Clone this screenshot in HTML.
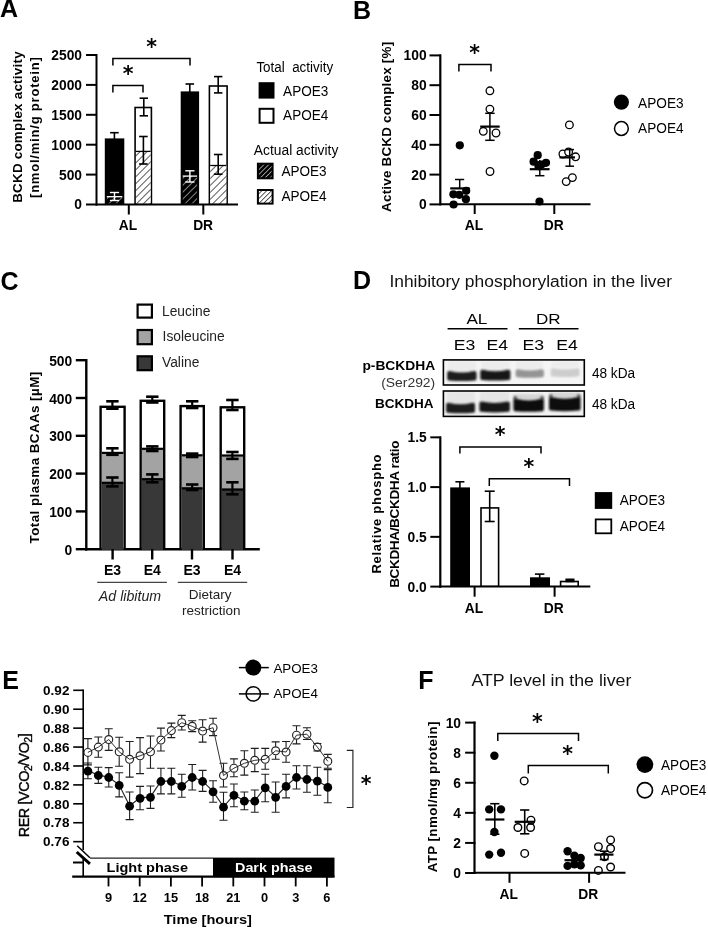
<!DOCTYPE html>
<html><head><meta charset="utf-8"><title>Figure</title>
<style>html,body{margin:0;padding:0;background:#fff;width:708px;height:928px;overflow:hidden}svg{display:block}text{font-family:"Liberation Sans", Arial, sans-serif}</style>
</head><body>
<svg width="708" height="928" viewBox="0 0 708 928">
<defs>
<pattern id="hatchB" patternUnits="userSpaceOnUse" width="4.9" height="4.9" patternTransform="rotate(45)">
<rect width="4.9" height="4.9" fill="#fff"/><line x1="0" y1="0" x2="0" y2="4.9" stroke="#222" stroke-width="1.5"/></pattern>
<pattern id="hatchW" patternUnits="userSpaceOnUse" width="4.9" height="4.9" patternTransform="rotate(45)">
<rect width="4.9" height="4.9" fill="#000"/><line x1="0" y1="0" x2="0" y2="4.9" stroke="#ddd" stroke-width="1.2"/></pattern>
<pattern id="hatchBL" patternUnits="userSpaceOnUse" width="3.4" height="3.4" patternTransform="rotate(45)">
<rect width="3.4" height="3.4" fill="#fff"/><line x1="0" y1="0" x2="0" y2="3.4" stroke="#111" stroke-width="1.35"/></pattern>
<pattern id="hatchWL" patternUnits="userSpaceOnUse" width="3.4" height="3.4" patternTransform="rotate(45)">
<rect width="3.4" height="3.4" fill="#000"/><line x1="0" y1="0" x2="0" y2="3.4" stroke="#fff" stroke-width="1.15"/></pattern>
<filter id="blur" x="-20%" y="-50%" width="140%" height="200%"><feGaussianBlur stdDeviation="0.9"/></filter>
</defs>
<rect width="708" height="928" fill="#fff"/>
<text x="0" y="17.2" font-size="25" font-weight="700">A</text>
<line x1="86" y1="204.5" x2="97" y2="204.5" stroke="#000" stroke-width="2" />
<text x="82" y="209.4" font-size="13.8" font-weight="700" text-anchor="end">0</text>
<line x1="86" y1="174.6" x2="97" y2="174.6" stroke="#000" stroke-width="2" />
<text x="82" y="179.5" font-size="13.8" font-weight="700" text-anchor="end">500</text>
<line x1="86" y1="144.7" x2="97" y2="144.7" stroke="#000" stroke-width="2" />
<text x="82" y="149.6" font-size="13.8" font-weight="700" text-anchor="end">1000</text>
<line x1="86" y1="114.8" x2="97" y2="114.8" stroke="#000" stroke-width="2" />
<text x="82" y="119.7" font-size="13.8" font-weight="700" text-anchor="end">1500</text>
<line x1="86" y1="84.9" x2="97" y2="84.9" stroke="#000" stroke-width="2" />
<text x="82" y="89.8" font-size="13.8" font-weight="700" text-anchor="end">2000</text>
<line x1="86" y1="55.0" x2="97" y2="55.0" stroke="#000" stroke-width="2" />
<text x="82" y="59.9" font-size="13.8" font-weight="700" text-anchor="end">2500</text>
<line x1="96.5" y1="54" x2="96.5" y2="205.5" stroke="#000" stroke-width="2" />
<rect x="105.8" y="139.4" width="17.5" height="64.6" fill="#000" stroke="#000" stroke-width="2" />
<rect x="135.1" y="107.5" width="16.3" height="96.7" fill="#fff" stroke="#000" stroke-width="1.6" />
<rect x="181.7" y="92.4" width="16.4" height="111.6" fill="#000" stroke="#000" stroke-width="2" />
<rect x="209.4" y="86.0" width="17.7" height="118.2" fill="#fff" stroke="#000" stroke-width="1.6" />
<rect x="106.8" y="196.7" width="15.5" height="6.8" fill="url(#hatchW)" />
<rect x="135.9" y="151.4" width="14.7" height="52.3" fill="url(#hatchB)" />
<rect x="182.7" y="176.1" width="14.4" height="27.4" fill="url(#hatchW)" />
<rect x="210.2" y="165.5" width="16.1" height="38.2" fill="url(#hatchB)" />
<line x1="106.8" y1="196.7" x2="122.3" y2="196.7" stroke="#fff" stroke-width="1.3" />
<line x1="135.9" y1="151.4" x2="150.6" y2="151.4" stroke="#000" stroke-width="1.3" />
<line x1="182.7" y1="176.1" x2="197.1" y2="176.1" stroke="#fff" stroke-width="1.3" />
<line x1="210.2" y1="165.5" x2="226.3" y2="165.5" stroke="#000" stroke-width="1.3" />
<line x1="114.4" y1="132.7" x2="114.4" y2="140" stroke="#000" stroke-width="1.6" />
<line x1="110.10000000000001" y1="132.7" x2="118.7" y2="132.7" stroke="#000" stroke-width="1.6" />
<line x1="110.10000000000001" y1="140" x2="118.7" y2="140" stroke="#000" stroke-width="1.6" />
<line x1="143.8" y1="98.2" x2="143.8" y2="115.8" stroke="#000" stroke-width="1.6" />
<line x1="139.60000000000002" y1="98.2" x2="148.0" y2="98.2" stroke="#000" stroke-width="1.6" />
<line x1="139.60000000000002" y1="115.8" x2="148.0" y2="115.8" stroke="#000" stroke-width="1.6" />
<line x1="189.8" y1="84" x2="189.8" y2="93" stroke="#000" stroke-width="1.6" />
<line x1="185.5" y1="84" x2="194.10000000000002" y2="84" stroke="#000" stroke-width="1.6" />
<line x1="185.5" y1="93" x2="194.10000000000002" y2="93" stroke="#000" stroke-width="1.6" />
<line x1="218.2" y1="76.6" x2="218.2" y2="92.9" stroke="#000" stroke-width="1.6" />
<line x1="214.0" y1="76.6" x2="222.39999999999998" y2="76.6" stroke="#000" stroke-width="1.6" />
<line x1="214.0" y1="92.9" x2="222.39999999999998" y2="92.9" stroke="#000" stroke-width="1.6" />
<line x1="114.5" y1="192.5" x2="114.5" y2="200.5" stroke="#fff" stroke-width="1.4" />
<line x1="109.9" y1="192.5" x2="119.1" y2="192.5" stroke="#fff" stroke-width="1.4" />
<line x1="109.9" y1="200.5" x2="119.1" y2="200.5" stroke="#fff" stroke-width="1.4" />
<line x1="143.4" y1="136.5" x2="143.4" y2="164" stroke="#000" stroke-width="1.6" />
<line x1="139.1" y1="136.5" x2="147.70000000000002" y2="136.5" stroke="#000" stroke-width="1.6" />
<line x1="139.1" y1="164" x2="147.70000000000002" y2="164" stroke="#000" stroke-width="1.6" />
<line x1="189.9" y1="170.8" x2="189.9" y2="182" stroke="#fff" stroke-width="1.4" />
<line x1="185.3" y1="170.8" x2="194.5" y2="170.8" stroke="#fff" stroke-width="1.4" />
<line x1="185.3" y1="182" x2="194.5" y2="182" stroke="#fff" stroke-width="1.4" />
<line x1="218.2" y1="154.5" x2="218.2" y2="174.2" stroke="#000" stroke-width="1.6" />
<line x1="213.89999999999998" y1="154.5" x2="222.5" y2="154.5" stroke="#000" stroke-width="1.6" />
<line x1="213.89999999999998" y1="174.2" x2="222.5" y2="174.2" stroke="#000" stroke-width="1.6" />
<line x1="95.5" y1="204.5" x2="238" y2="204.5" stroke="#000" stroke-width="2" />
<line x1="128.8" y1="204.5" x2="128.8" y2="214.5" stroke="#000" stroke-width="2" />
<line x1="203.3" y1="204.5" x2="203.3" y2="214.5" stroke="#000" stroke-width="2" />
<text x="127.9" y="229.8" font-size="13.8" font-weight="700" text-anchor="middle">AL</text>
<text x="203.1" y="229.8" font-size="13.8" font-weight="700" text-anchor="middle">DR</text>
<path d="M112.9 65.5V58.6H190V65.5" stroke="#000" stroke-width="1.5" fill="none" />
<text x="151.7" y="53.55" font-size="20.5" font-weight="700" text-anchor="middle" style="font-family:'DejaVu Sans',sans-serif">*</text>
<path d="M112.9 92.5V85.5H143V92.5" stroke="#000" stroke-width="1.5" fill="none" />
<text x="128" y="80.55" font-size="20.5" font-weight="700" text-anchor="middle" style="font-family:'DejaVu Sans',sans-serif">*</text>
<text x="22.2" y="127.1" font-size="13.4" font-weight="700" text-anchor="middle" textLength="151.4" lengthAdjust="spacing" transform="rotate(-90 22.2 127.1)">BCKD complex activity</text>
<text x="39.5" y="127.6" font-size="13" font-weight="700" text-anchor="middle" textLength="140.8" lengthAdjust="spacing" transform="rotate(-90 39.5 127.6)">[nmol/min/g protein]</text>
<text x="256.4" y="72" font-size="14" textLength="76.7" lengthAdjust="spacingAndGlyphs">Total&#160; activity</text>
<rect x="259.6" y="83.2" width="13.9" height="14.4" fill="#000" stroke="#000" stroke-width="2" />
<text x="283.1" y="95.7" font-size="14" textLength="45.2" lengthAdjust="spacingAndGlyphs">APOE3</text>
<rect x="259.6" y="108.8" width="13.9" height="14.0" fill="#fff" stroke="#000" stroke-width="2" />
<text x="283.1" y="119.8" font-size="14" textLength="45.2" lengthAdjust="spacingAndGlyphs">APOE4</text>
<text x="253.8" y="155.2" font-size="14" textLength="84.5" lengthAdjust="spacingAndGlyphs">Actual activity</text>
<rect x="257.9" y="163.7" width="14.7" height="14.6" fill="url(#hatchWL)" stroke="#000" stroke-width="2" />
<text x="281.4" y="175.5" font-size="14" textLength="45.2" lengthAdjust="spacingAndGlyphs">APOE3</text>
<rect x="257.9" y="190.0" width="14.7" height="13.6" fill="url(#hatchBL)" stroke="#000" stroke-width="2" />
<text x="281.4" y="200.9" font-size="14" textLength="45.2" lengthAdjust="spacingAndGlyphs">APOE4</text>
<text x="353" y="19.1" font-size="25" font-weight="700">B</text>
<line x1="429.5" y1="204.4" x2="441" y2="204.4" stroke="#000" stroke-width="2" />
<text x="426.6" y="209.3" font-size="13.8" font-weight="700" text-anchor="end">0</text>
<line x1="429.5" y1="174.6" x2="441" y2="174.6" stroke="#000" stroke-width="2" />
<text x="426.6" y="179.5" font-size="13.8" font-weight="700" text-anchor="end">20</text>
<line x1="429.5" y1="144.8" x2="441" y2="144.8" stroke="#000" stroke-width="2" />
<text x="426.6" y="149.7" font-size="13.8" font-weight="700" text-anchor="end">40</text>
<line x1="429.5" y1="115.0" x2="441" y2="115.0" stroke="#000" stroke-width="2" />
<text x="426.6" y="119.9" font-size="13.8" font-weight="700" text-anchor="end">60</text>
<line x1="429.5" y1="85.2" x2="441" y2="85.2" stroke="#000" stroke-width="2" />
<text x="426.6" y="90.1" font-size="13.8" font-weight="700" text-anchor="end">80</text>
<line x1="429.5" y1="55.4" x2="441" y2="55.4" stroke="#000" stroke-width="2" />
<text x="426.6" y="60.3" font-size="13.8" font-weight="700" text-anchor="end">100</text>
<line x1="440.3" y1="54.4" x2="440.3" y2="205.3" stroke="#000" stroke-width="2.2" />
<line x1="439.3" y1="204.3" x2="590.5" y2="204.3" stroke="#000" stroke-width="2" />
<line x1="474.7" y1="204.3" x2="474.7" y2="214" stroke="#000" stroke-width="2" />
<line x1="554.3" y1="204.3" x2="554.3" y2="214" stroke="#000" stroke-width="2" />
<text x="474" y="230.3" font-size="13.8" font-weight="700" text-anchor="middle">AL</text>
<text x="553.8" y="230.3" font-size="13.8" font-weight="700" text-anchor="middle">DR</text>
<text x="391" y="126.9" font-size="13.4" font-weight="700" text-anchor="middle" textLength="170" lengthAdjust="spacing" transform="rotate(-90 391 126.9)">Active BCKD complex [%]</text>
<path d="M458.9 71.4V64.6H491V71.4" stroke="#000" stroke-width="1.5" fill="none" />
<text x="474.5" y="59.55" font-size="20.5" font-weight="700" text-anchor="middle" style="font-family:'DejaVu Sans',sans-serif">*</text>
<circle cx="459.8" cy="145.3" r="4.1" fill="#000"/>
<circle cx="453.4" cy="194.3" r="4.1" fill="#000"/>
<circle cx="459.3" cy="194.8" r="4.1" fill="#000"/>
<circle cx="466.2" cy="190.8" r="4.1" fill="#000"/>
<circle cx="465.9" cy="199.2" r="4.1" fill="#000"/>
<circle cx="453.6" cy="204.5" r="4.1" fill="#000"/>
<line x1="450.2" y1="188.4" x2="469.7" y2="188.4" stroke="#000" stroke-width="2.2" />
<line x1="459.7" y1="179.5" x2="459.7" y2="188.4" stroke="#000" stroke-width="1.5" />
<line x1="455" y1="179.5" x2="464.2" y2="179.5" stroke="#000" stroke-width="1.5" />
<circle cx="489.9" cy="90.8" r="3.8" fill="#fff" stroke="#000" stroke-width="1.3"/>
<circle cx="489.9" cy="109.1" r="3.8" fill="#fff" stroke="#000" stroke-width="1.3"/>
<circle cx="483.3" cy="131.3" r="3.8" fill="#fff" stroke="#000" stroke-width="1.3"/>
<circle cx="496" cy="133" r="3.8" fill="#fff" stroke="#000" stroke-width="1.3"/>
<circle cx="490" cy="171.5" r="3.8" fill="#fff" stroke="#000" stroke-width="1.3"/>
<line x1="480.2" y1="126.6" x2="499.7" y2="126.6" stroke="#000" stroke-width="2.2" />
<line x1="489.9" y1="113.3" x2="489.9" y2="140.3" stroke="#000" stroke-width="1.5" />
<line x1="485.2" y1="113.3" x2="494.59999999999997" y2="113.3" stroke="#000" stroke-width="1.5" />
<line x1="485.2" y1="140.3" x2="494.59999999999997" y2="140.3" stroke="#000" stroke-width="1.5" />
<circle cx="537.7" cy="155.2" r="4.1" fill="#000"/>
<circle cx="533.6" cy="161.7" r="4.1" fill="#000"/>
<circle cx="546" cy="162.8" r="4.1" fill="#000"/>
<circle cx="539" cy="165" r="4.1" fill="#000"/>
<circle cx="538.5" cy="166.2" r="4.1" fill="#000"/>
<circle cx="541.5" cy="164.5" r="4.1" fill="#000"/>
<circle cx="539.5" cy="201.5" r="4.1" fill="#000"/>
<line x1="529.8" y1="169.2" x2="549.6" y2="169.2" stroke="#000" stroke-width="2.2" />
<line x1="539.8" y1="160" x2="539.8" y2="175.7" stroke="#000" stroke-width="1.5" />
<line x1="535.2" y1="175.7" x2="544.4" y2="175.7" stroke="#000" stroke-width="1.5" />
<circle cx="569.4" cy="124.9" r="3.8" fill="#fff" stroke="#000" stroke-width="1.3"/>
<circle cx="562.9" cy="154" r="3.8" fill="#fff" stroke="#000" stroke-width="1.3"/>
<circle cx="568.6" cy="152" r="3.8" fill="#fff" stroke="#000" stroke-width="1.3"/>
<circle cx="575.6" cy="156.8" r="3.8" fill="#fff" stroke="#000" stroke-width="1.3"/>
<circle cx="566.2" cy="181.6" r="3.8" fill="#fff" stroke="#000" stroke-width="1.3"/>
<circle cx="572.4" cy="177.6" r="3.8" fill="#fff" stroke="#000" stroke-width="1.3"/>
<line x1="559.5" y1="157.4" x2="575" y2="157.4" stroke="#000" stroke-width="2.2" />
<line x1="569.7" y1="149.6" x2="569.7" y2="166.2" stroke="#000" stroke-width="1.5" />
<line x1="565.4000000000001" y1="149.6" x2="574.0" y2="149.6" stroke="#000" stroke-width="1.5" />
<line x1="565.4000000000001" y1="166.2" x2="574.0" y2="166.2" stroke="#000" stroke-width="1.5" />
<circle cx="621.4" cy="102.1" r="7.6" fill="#000"/>
<circle cx="621.4" cy="128.5" r="6.9" fill="#fff" stroke="#000" stroke-width="1.5"/>
<text x="638.1" y="107.5" font-size="14" textLength="45.5" lengthAdjust="spacingAndGlyphs">APOE3</text>
<text x="638.1" y="132.6" font-size="14" textLength="45.5" lengthAdjust="spacingAndGlyphs">APOE4</text>
<text x="0.5" y="290.2" font-size="25" font-weight="700">C</text>
<line x1="75.8" y1="549.2" x2="87" y2="549.2" stroke="#000" stroke-width="2.4" />
<text x="72.2" y="554.8" font-size="13.8" font-weight="700" text-anchor="end">0</text>
<line x1="75.8" y1="511.4" x2="87" y2="511.4" stroke="#000" stroke-width="2.4" />
<text x="72.2" y="517.0" font-size="13.8" font-weight="700" text-anchor="end">100</text>
<line x1="75.8" y1="473.6" x2="87" y2="473.6" stroke="#000" stroke-width="2.4" />
<text x="72.2" y="479.2" font-size="13.8" font-weight="700" text-anchor="end">200</text>
<line x1="75.8" y1="435.8" x2="87" y2="435.8" stroke="#000" stroke-width="2.4" />
<text x="72.2" y="441.4" font-size="13.8" font-weight="700" text-anchor="end">300</text>
<line x1="75.8" y1="398.0" x2="87" y2="398.0" stroke="#000" stroke-width="2.4" />
<text x="72.2" y="403.6" font-size="13.8" font-weight="700" text-anchor="end">400</text>
<line x1="75.8" y1="360.2" x2="87" y2="360.2" stroke="#000" stroke-width="2.4" />
<text x="72.2" y="365.8" font-size="13.8" font-weight="700" text-anchor="end">500</text>
<line x1="86.3" y1="359" x2="86.3" y2="550.5" stroke="#000" stroke-width="2.4" />
<line x1="85" y1="549.3" x2="259.8" y2="549.3" stroke="#000" stroke-width="2.6" />
<text x="39.5" y="457.6" font-size="13.4" font-weight="700" text-anchor="middle" textLength="171.6" lengthAdjust="spacing" transform="rotate(-90 39.5 457.6)">Total plasma BCAAs [µM]</text>
<rect x="100.6" y="406.8" width="24.0" height="142.0" fill="#fff" stroke="#000" stroke-width="2.4" />
<rect x="101.80000000000001" y="452.9" width="21.59999999999999" height="96.39999999999998" fill="#a3a3a3" />
<rect x="101.80000000000001" y="482.8" width="21.59999999999999" height="66.49999999999994" fill="#383838" />
<line x1="101.80000000000001" y1="452.9" x2="123.39999999999999" y2="452.9" stroke="#000" stroke-width="2.2" />
<line x1="101.80000000000001" y1="482.8" x2="123.39999999999999" y2="482.8" stroke="#000" stroke-width="2.2" />
<rect x="140.7" y="400.8" width="23.5" height="148.0" fill="#fff" stroke="#000" stroke-width="2.4" />
<rect x="141.9" y="448.8" width="21.100000000000005" height="100.49999999999994" fill="#a3a3a3" />
<rect x="141.9" y="479.2" width="21.100000000000005" height="70.09999999999997" fill="#383838" />
<line x1="141.9" y1="448.8" x2="163.0" y2="448.8" stroke="#000" stroke-width="2.2" />
<line x1="141.9" y1="479.2" x2="163.0" y2="479.2" stroke="#000" stroke-width="2.2" />
<rect x="180.6" y="406.1" width="23.2" height="142.7" fill="#fff" stroke="#000" stroke-width="2.4" />
<rect x="181.8" y="455.3" width="20.799999999999994" height="93.99999999999994" fill="#a3a3a3" />
<rect x="181.8" y="488.3" width="20.799999999999994" height="60.99999999999994" fill="#383838" />
<line x1="181.8" y1="455.3" x2="202.6" y2="455.3" stroke="#000" stroke-width="2.2" />
<line x1="181.8" y1="488.3" x2="202.6" y2="488.3" stroke="#000" stroke-width="2.2" />
<rect x="220.7" y="407.3" width="23.5" height="141.5" fill="#fff" stroke="#000" stroke-width="2.4" />
<rect x="221.9" y="455.5" width="21.100000000000005" height="93.79999999999995" fill="#a3a3a3" />
<rect x="221.9" y="489.5" width="21.100000000000005" height="59.799999999999955" fill="#383838" />
<line x1="221.9" y1="455.5" x2="243.0" y2="455.5" stroke="#000" stroke-width="2.2" />
<line x1="221.9" y1="489.5" x2="243.0" y2="489.5" stroke="#000" stroke-width="2.2" />
<line x1="112.4" y1="401.3" x2="112.4" y2="408.7" stroke="#000" stroke-width="2.2" />
<line x1="106.2" y1="401.3" x2="118.60000000000001" y2="401.3" stroke="#000" stroke-width="2.6" />
<line x1="106.2" y1="408.7" x2="118.60000000000001" y2="408.7" stroke="#000" stroke-width="2.6" />
<line x1="112.4" y1="448.3" x2="112.4" y2="454.8" stroke="#000" stroke-width="2.2" />
<line x1="106.2" y1="448.3" x2="118.60000000000001" y2="448.3" stroke="#000" stroke-width="2.6" />
<line x1="106.2" y1="454.8" x2="118.60000000000001" y2="454.8" stroke="#000" stroke-width="2.6" />
<line x1="112.4" y1="477.5" x2="112.4" y2="486.4" stroke="#000" stroke-width="2.2" />
<line x1="106.2" y1="477.5" x2="118.60000000000001" y2="477.5" stroke="#000" stroke-width="2.6" />
<line x1="106.2" y1="486.4" x2="118.60000000000001" y2="486.4" stroke="#000" stroke-width="2.6" />
<line x1="152.3" y1="396.7" x2="152.3" y2="402.5" stroke="#000" stroke-width="2.2" />
<line x1="146.10000000000002" y1="396.7" x2="158.5" y2="396.7" stroke="#000" stroke-width="2.6" />
<line x1="146.10000000000002" y1="402.5" x2="158.5" y2="402.5" stroke="#000" stroke-width="2.6" />
<line x1="152.3" y1="446.4" x2="152.3" y2="451" stroke="#000" stroke-width="2.2" />
<line x1="146.10000000000002" y1="446.4" x2="158.5" y2="446.4" stroke="#000" stroke-width="2.6" />
<line x1="146.10000000000002" y1="451" x2="158.5" y2="451" stroke="#000" stroke-width="2.6" />
<line x1="152.3" y1="474.4" x2="152.3" y2="482.3" stroke="#000" stroke-width="2.2" />
<line x1="146.10000000000002" y1="474.4" x2="158.5" y2="474.4" stroke="#000" stroke-width="2.6" />
<line x1="146.10000000000002" y1="482.3" x2="158.5" y2="482.3" stroke="#000" stroke-width="2.6" />
<line x1="192.2" y1="401.3" x2="192.2" y2="408" stroke="#000" stroke-width="2.2" />
<line x1="186.0" y1="401.3" x2="198.39999999999998" y2="401.3" stroke="#000" stroke-width="2.6" />
<line x1="186.0" y1="408" x2="198.39999999999998" y2="408" stroke="#000" stroke-width="2.6" />
<line x1="192.2" y1="453.6" x2="192.2" y2="457" stroke="#000" stroke-width="2.2" />
<line x1="186.0" y1="453.6" x2="198.39999999999998" y2="453.6" stroke="#000" stroke-width="2.6" />
<line x1="186.0" y1="457" x2="198.39999999999998" y2="457" stroke="#000" stroke-width="2.6" />
<line x1="192.2" y1="484.5" x2="192.2" y2="490" stroke="#000" stroke-width="2.2" />
<line x1="186.0" y1="484.5" x2="198.39999999999998" y2="484.5" stroke="#000" stroke-width="2.6" />
<line x1="186.0" y1="490" x2="198.39999999999998" y2="490" stroke="#000" stroke-width="2.6" />
<line x1="232.4" y1="400" x2="232.4" y2="410" stroke="#000" stroke-width="2.2" />
<line x1="226.20000000000002" y1="400" x2="238.6" y2="400" stroke="#000" stroke-width="2.6" />
<line x1="226.20000000000002" y1="410" x2="238.6" y2="410" stroke="#000" stroke-width="2.6" />
<line x1="232.4" y1="452" x2="232.4" y2="458.9" stroke="#000" stroke-width="2.2" />
<line x1="226.20000000000002" y1="452" x2="238.6" y2="452" stroke="#000" stroke-width="2.6" />
<line x1="226.20000000000002" y1="458.9" x2="238.6" y2="458.9" stroke="#000" stroke-width="2.6" />
<line x1="232.4" y1="482.3" x2="232.4" y2="494.3" stroke="#000" stroke-width="2.2" />
<line x1="226.20000000000002" y1="482.3" x2="238.6" y2="482.3" stroke="#000" stroke-width="2.6" />
<line x1="226.20000000000002" y1="494.3" x2="238.6" y2="494.3" stroke="#000" stroke-width="2.6" />
<line x1="112.6" y1="549" x2="112.6" y2="559.5" stroke="#000" stroke-width="2.4" />
<line x1="152.2" y1="549" x2="152.2" y2="559.5" stroke="#000" stroke-width="2.4" />
<line x1="192" y1="549" x2="192" y2="559.5" stroke="#000" stroke-width="2.4" />
<line x1="232.5" y1="549" x2="232.5" y2="559.5" stroke="#000" stroke-width="2.4" />
<text x="112.6" y="575.4" font-size="14" font-weight="700" text-anchor="middle">E3</text>
<text x="152.2" y="575.4" font-size="14" font-weight="700" text-anchor="middle">E4</text>
<text x="192" y="575.4" font-size="14" font-weight="700" text-anchor="middle">E3</text>
<text x="232.5" y="575.4" font-size="14" font-weight="700" text-anchor="middle">E4</text>
<line x1="97.2" y1="582.3" x2="166.9" y2="582.3" stroke="#444" stroke-width="1.2" />
<line x1="177.8" y1="582.3" x2="247.2" y2="582.3" stroke="#444" stroke-width="1.2" />
<text x="130" y="600.7" font-size="14.2" font-style="italic" text-anchor="middle" fill="#222">Ad libitum</text>
<text x="210.2" y="598.8" font-size="13.5" text-anchor="middle" fill="#222">Dietary</text>
<text x="211.2" y="614.8" font-size="13.5" text-anchor="middle" fill="#222">restriction</text>
<rect x="137.6" y="304.6" width="14.3" height="13.0" fill="#fff" stroke="#000" stroke-width="2.2" />
<rect x="137.6" y="330.0" width="14.3" height="14.2" fill="#a3a3a3" stroke="#000" stroke-width="2.2" />
<rect x="137.6" y="356.3" width="14.3" height="13.9" fill="#383838" stroke="#000" stroke-width="2.2" />
<text x="162" y="316.4" font-size="13.8" fill="#222">Leucine</text>
<text x="162.6" y="341.3" font-size="13.8" fill="#222">Isoleucine</text>
<text x="162" y="367.2" font-size="13.8" fill="#222">Valine</text>
<text x="353" y="288.9" font-size="25" font-weight="700">D</text>
<text x="389.4" y="286.6" font-size="16" fill="#111" textLength="282.6" lengthAdjust="spacingAndGlyphs">Inhibitory phosphorylation in the liver</text>
<text x="476.9" y="323.7" font-size="15" text-anchor="middle" textLength="21" lengthAdjust="spacingAndGlyphs">AL</text>
<text x="548.2" y="323.7" font-size="15" text-anchor="middle" textLength="24.6" lengthAdjust="spacingAndGlyphs">DR</text>
<line x1="447.6" y1="328.7" x2="507.5" y2="328.7" stroke="#000" stroke-width="1.4" />
<line x1="518.8" y1="328.7" x2="578.5" y2="328.7" stroke="#000" stroke-width="1.4" />
<text x="464.5" y="350.3" font-size="15" text-anchor="middle" textLength="21.6" lengthAdjust="spacingAndGlyphs">E3</text>
<text x="497.2" y="350.3" font-size="15" text-anchor="middle" textLength="21.6" lengthAdjust="spacingAndGlyphs">E4</text>
<text x="533.4" y="350.3" font-size="15" text-anchor="middle" textLength="21.6" lengthAdjust="spacingAndGlyphs">E3</text>
<text x="567.1" y="350.3" font-size="15" text-anchor="middle" textLength="21.6" lengthAdjust="spacingAndGlyphs">E4</text>
<rect x="443.4" y="359.9" width="140.9" height="25.1" fill="#f5f5f5" stroke="#000" stroke-width="1.6" />
<rect x="443.4" y="391.0" width="140.9" height="25.4" fill="#f1f1f1" stroke="#000" stroke-width="1.6" />
<g filter="url(#blur)">
<rect x="448" y="361" width="28" height="12" fill="#000" opacity="0.035"/>
<rect x="481" y="361" width="29" height="12" fill="#000" opacity="0.035"/>
<rect x="516" y="361" width="27" height="12" fill="#000" opacity="0.035"/>
<rect x="551" y="361" width="28" height="12" fill="#000" opacity="0.035"/>
<rect x="447" y="392" width="28" height="12" fill="#000" opacity="0.05"/>
<rect x="480" y="392" width="29" height="12" fill="#000" opacity="0.05"/>
<path d="M448.7 380.4Q447.2 380.4 447.2 378.4L447.2 372.4Q447.2 370.9 449.7 370.9Q461.85 374.30000000000007 474.0 370.9Q476.5 370.9 476.5 372.4L476.5 378.4Q476.5 380.4 475.0 380.4Q461.85 381.59999999999997 448.7 380.4Z" fill="#1c1c1c"/>
<path d="M481.8 379.9Q480.3 379.9 480.3 377.9L480.3 371.3Q480.3 369.8 482.8 369.8Q495.35 372.8 507.9 369.8Q510.4 369.8 510.4 371.3L510.4 377.9Q510.4 379.9 508.9 379.9Q495.35 381.09999999999997 481.8 379.9Z" fill="#121212"/>
<path d="M517.1 377.2Q515.6 377.2 515.6 375.2L515.6 370.8Q515.6 369.3 518.1 369.3Q529.75 371.90000000000003 541.4 369.3Q543.9 369.3 543.9 370.8L543.9 375.2Q543.9 377.2 542.4 377.2Q529.75 378.4 517.1 377.2Z" fill="#949494"/>
<path d="M552.2 376.5Q550.7 376.5 550.7 374.5L550.7 369.8Q550.7 368.3 553.2 368.3Q565.1 370.90000000000003 577.0 368.3Q579.5 368.3 579.5 369.8L579.5 374.5Q579.5 376.5 578.0 376.5Q565.1 377.7 552.2 376.5Z" fill="#cdcdcd"/>
<path d="M447.6 412.7Q446.1 412.7 446.1 410.7L446.1 404.2Q446.1 402.7 448.6 402.7Q460.55 405.7 472.5 402.7Q475.0 402.7 475.0 404.2L475.0 410.7Q475.0 412.7 473.5 412.7Q460.55 413.9 447.6 412.7Z" fill="#1c1c1c"/>
<path d="M480.9 411.8Q479.4 411.8 479.4 409.8L479.4 403.1Q479.4 401.6 481.9 401.6Q494.65 404.4 507.4 401.6Q509.9 401.6 509.9 403.1L509.9 409.8Q509.9 411.8 508.4 411.8Q494.65 413.0 480.9 411.8Z" fill="#181818"/>
<rect x="513.9" y="394.3" width="29.5" height="6.5" fill="#555" opacity="0.18"/>
<rect x="513.4" y="396.1" width="3.5" height="4.699999999999999" rx="1.5" fill="#555"/>
<rect x="540.4" y="396.1" width="3.5" height="4.699999999999999" rx="1.5" fill="#555"/>
<path d="M514.9 411.2Q513.4 411.2 513.4 409.2L513.4 400.3Q513.4 398.8 515.9 398.8Q528.65 402.40000000000003 541.4 398.8Q543.9 398.8 543.9 400.3L543.9 409.2Q543.9 411.2 542.4 411.2Q528.65 412.4 514.9 411.2Z" fill="#101010"/>
<rect x="549.5" y="392.5" width="30.600000000000023" height="6.5" fill="#555" opacity="0.18"/>
<rect x="549.0" y="394.3" width="3.5" height="4.699999999999999" rx="1.5" fill="#555"/>
<rect x="577.1" y="394.3" width="3.5" height="4.699999999999999" rx="1.5" fill="#555"/>
<path d="M550.5 410.6Q549.0 410.6 549.0 408.6L549.0 398.5Q549.0 397.0 551.5 397.0Q564.8 400.6 578.1 397.0Q580.6 397.0 580.6 398.5L580.6 408.6Q580.6 410.6 579.1 410.6Q564.8 411.8 550.5 410.6Z" fill="#101010"/>
</g>
<text x="435.2" y="370.1" font-size="13" font-weight="700" text-anchor="end" textLength="72.8" lengthAdjust="spacingAndGlyphs">p-BCKDHA</text>
<text x="435.2" y="386.9" font-size="13" text-anchor="end" fill="#333" textLength="54" lengthAdjust="spacingAndGlyphs">(Ser292)</text>
<text x="433.5" y="408" font-size="13" font-weight="700" text-anchor="end" textLength="58.6" lengthAdjust="spacingAndGlyphs">BCKDHA</text>
<text x="591.9" y="377.6" font-size="14" textLength="43.2" lengthAdjust="spacingAndGlyphs">48 kDa</text>
<text x="591.9" y="408.7" font-size="14" textLength="43.2" lengthAdjust="spacingAndGlyphs">48 kDa</text>
<line x1="430.3" y1="586.6" x2="441" y2="586.6" stroke="#000" stroke-width="2" />
<text x="426.8" y="591.5" font-size="13.8" font-weight="700" text-anchor="end">0.0</text>
<line x1="430.3" y1="536.85" x2="441" y2="536.85" stroke="#000" stroke-width="2" />
<text x="426.8" y="541.75" font-size="13.8" font-weight="700" text-anchor="end">0.5</text>
<line x1="430.3" y1="487.1" x2="441" y2="487.1" stroke="#000" stroke-width="2" />
<text x="426.8" y="492.0" font-size="13.8" font-weight="700" text-anchor="end">1.0</text>
<line x1="430.3" y1="437.35" x2="441" y2="437.35" stroke="#000" stroke-width="2" />
<text x="426.8" y="442.25" font-size="13.8" font-weight="700" text-anchor="end">1.5</text>
<line x1="440.3" y1="436.5" x2="440.3" y2="587.6" stroke="#000" stroke-width="2.2" />
<line x1="439.3" y1="586.5" x2="590.3" y2="586.5" stroke="#000" stroke-width="2" />
<line x1="474.6" y1="586.5" x2="474.6" y2="596.7" stroke="#000" stroke-width="2" />
<line x1="554.6" y1="586.5" x2="554.6" y2="596.7" stroke="#000" stroke-width="2" />
<text x="474" y="612.9" font-size="13.8" font-weight="700" text-anchor="middle">AL</text>
<text x="553.8" y="612.9" font-size="13.8" font-weight="700" text-anchor="middle">DR</text>
<text x="380.8" y="514" font-size="13" font-weight="700" text-anchor="middle" textLength="119" lengthAdjust="spacing" transform="rotate(-90 380.8 514)">Relative phospho</text>
<text x="399.5" y="514.2" font-size="13.6" font-weight="700" text-anchor="middle" textLength="147.3" lengthAdjust="spacing" transform="rotate(-90 399.5 514.2)">BCKDHA/BCKDHA ratio</text>
<rect x="451.2" y="488.4" width="17.8" height="97.6" fill="#000" stroke="#000" stroke-width="2" />
<rect x="481.0" y="507.9" width="17.6" height="78.3" fill="#fff" stroke="#000" stroke-width="1.6" />
<rect x="531.0" y="578.3" width="18" height="7.7" fill="#000" stroke="#000" stroke-width="2" />
<rect x="560.6" y="581.5" width="17.6" height="4.7" fill="#fff" stroke="#000" stroke-width="1.6" />
<line x1="459.9" y1="481.8" x2="459.9" y2="488" stroke="#000" stroke-width="1.6" />
<line x1="455.4" y1="481.8" x2="464.4" y2="481.8" stroke="#000" stroke-width="1.6" />
<line x1="489.7" y1="491.2" x2="489.7" y2="521.5" stroke="#000" stroke-width="1.6" />
<line x1="484.7" y1="491.2" x2="494.7" y2="491.2" stroke="#000" stroke-width="1.6" />
<line x1="484.7" y1="521.5" x2="494.7" y2="521.5" stroke="#000" stroke-width="1.6" />
<line x1="539.7" y1="574.1" x2="539.7" y2="578" stroke="#000" stroke-width="1.6" />
<line x1="534.9" y1="574.1" x2="544.4" y2="574.1" stroke="#000" stroke-width="1.6" />
<rect x="565.4" y="578.5" width="9.1" height="3.8" fill="#000" />
<path d="M459.9 453.5V447.1H541V453.5" stroke="#000" stroke-width="1.5" fill="none" />
<text x="500.1" y="441.85" font-size="20.5" font-weight="700" text-anchor="middle" style="font-family:'DejaVu Sans',sans-serif">*</text>
<path d="M489.3 486V478.8H569.5V486" stroke="#000" stroke-width="1.5" fill="none" />
<text x="528.9" y="474.05" font-size="20.5" font-weight="700" text-anchor="middle" style="font-family:'DejaVu Sans',sans-serif">*</text>
<rect x="595.8" y="493.1" width="15.4" height="14.8" fill="#000" stroke="#000" stroke-width="2" />
<rect x="595.7" y="519.4" width="15.6" height="13.9" fill="#fff" stroke="#000" stroke-width="1.8" />
<text x="619.8" y="505.3" font-size="14" textLength="45.2" lengthAdjust="spacingAndGlyphs">APOE3</text>
<text x="619.8" y="530.6" font-size="14" textLength="45.2" lengthAdjust="spacingAndGlyphs">APOE4</text>
<text x="2.3" y="688.9" font-size="25" font-weight="700">E</text>
<line x1="73.2" y1="690.3" x2="83.5" y2="690.3" stroke="#000" stroke-width="1.6" />
<text x="69.4" y="695.0" font-size="13.5" font-weight="700" text-anchor="end">0.92</text>
<line x1="73.2" y1="709.22" x2="83.5" y2="709.22" stroke="#000" stroke-width="1.6" />
<text x="69.4" y="713.92" font-size="13.5" font-weight="700" text-anchor="end">0.90</text>
<line x1="73.2" y1="728.14" x2="83.5" y2="728.14" stroke="#000" stroke-width="1.6" />
<text x="69.4" y="732.84" font-size="13.5" font-weight="700" text-anchor="end">0.88</text>
<line x1="73.2" y1="747.06" x2="83.5" y2="747.06" stroke="#000" stroke-width="1.6" />
<text x="69.4" y="751.76" font-size="13.5" font-weight="700" text-anchor="end">0.86</text>
<line x1="73.2" y1="765.98" x2="83.5" y2="765.98" stroke="#000" stroke-width="1.6" />
<text x="69.4" y="770.68" font-size="13.5" font-weight="700" text-anchor="end">0.84</text>
<line x1="73.2" y1="784.9" x2="83.5" y2="784.9" stroke="#000" stroke-width="1.6" />
<text x="69.4" y="789.6" font-size="13.5" font-weight="700" text-anchor="end">0.82</text>
<line x1="73.2" y1="803.82" x2="83.5" y2="803.82" stroke="#000" stroke-width="1.6" />
<text x="69.4" y="808.52" font-size="13.5" font-weight="700" text-anchor="end">0.80</text>
<line x1="73.2" y1="822.74" x2="83.5" y2="822.74" stroke="#000" stroke-width="1.6" />
<text x="69.4" y="827.44" font-size="13.5" font-weight="700" text-anchor="end">0.78</text>
<line x1="73.2" y1="841.66" x2="83.5" y2="841.66" stroke="#000" stroke-width="1.6" />
<text x="69.4" y="846.36" font-size="13.5" font-weight="700" text-anchor="end">0.76</text>
<line x1="83.2" y1="689.5" x2="83.2" y2="850" stroke="#000" stroke-width="1.6" />
<line x1="83.2" y1="857" x2="83.2" y2="877" stroke="#000" stroke-width="1.6" />
<line x1="73" y1="862.5" x2="83.5" y2="862.5" stroke="#000" stroke-width="2" />
<line x1="77.2" y1="845.8" x2="89.9" y2="857.7" stroke="#000" stroke-width="1.5" />
<line x1="76.7" y1="852" x2="89.9" y2="863.9" stroke="#000" stroke-width="3" />
<line x1="90" y1="858.2" x2="213" y2="858.2" stroke="#222" stroke-width="1.3" />
<rect x="213" y="857.6" width="121.5" height="19.5" fill="#000" />
<line x1="72.2" y1="876.6" x2="334.5" y2="876.6" stroke="#000" stroke-width="2.2" />
<text x="106.6" y="872" font-size="12.7" font-weight="700" textLength="81.4" lengthAdjust="spacingAndGlyphs">Light phase</text>
<text x="235" y="872.2" font-size="12.7" font-weight="700" fill="#fff" textLength="77.5" lengthAdjust="spacingAndGlyphs">Dark phase</text>
<line x1="108.5" y1="876.6" x2="108.5" y2="886.4" stroke="#000" stroke-width="1.8" />
<text x="108.5" y="902.2" font-size="12.8" font-weight="700" text-anchor="middle">9</text>
<line x1="139.7" y1="876.6" x2="139.7" y2="886.4" stroke="#000" stroke-width="1.8" />
<text x="139.7" y="902.2" font-size="12.8" font-weight="700" text-anchor="middle">12</text>
<line x1="170.9" y1="876.6" x2="170.9" y2="886.4" stroke="#000" stroke-width="1.8" />
<text x="170.9" y="902.2" font-size="12.8" font-weight="700" text-anchor="middle">15</text>
<line x1="202.1" y1="876.6" x2="202.1" y2="886.4" stroke="#000" stroke-width="1.8" />
<text x="202.1" y="902.2" font-size="12.8" font-weight="700" text-anchor="middle">18</text>
<line x1="233.3" y1="876.6" x2="233.3" y2="886.4" stroke="#000" stroke-width="1.8" />
<text x="233.3" y="902.2" font-size="12.8" font-weight="700" text-anchor="middle">21</text>
<line x1="264.5" y1="876.6" x2="264.5" y2="886.4" stroke="#000" stroke-width="1.8" />
<text x="264.5" y="902.2" font-size="12.8" font-weight="700" text-anchor="middle">0</text>
<line x1="295.7" y1="876.6" x2="295.7" y2="886.4" stroke="#000" stroke-width="1.8" />
<text x="295.7" y="902.2" font-size="12.8" font-weight="700" text-anchor="middle">3</text>
<line x1="326.9" y1="876.6" x2="326.9" y2="886.4" stroke="#000" stroke-width="1.8" />
<text x="326.9" y="902.2" font-size="12.8" font-weight="700" text-anchor="middle">6</text>
<text x="207.8" y="924.3" font-size="13.6" font-weight="700" text-anchor="middle" textLength="88.2" lengthAdjust="spacingAndGlyphs">Time [hours]</text>
<text x="28.9" y="785.3" font-size="14.4" text-anchor="middle" textLength="104" lengthAdjust="spacing" transform="rotate(-90 28.9 785.3)" stroke="#000" stroke-width="0.35">RER [VCO<tspan font-size="10" dy="3">2</tspan><tspan dy="-3">/VO</tspan><tspan font-size="10" dy="3">2</tspan><tspan dy="-3">]</tspan></text>
<g stroke="#1e1e1e" stroke-width="1.1" fill="none">
<path d="M83.9 738.6h8M83.9 764.9h8M87.9 738.6V748.0M87.9 756.8V764.9"/>
<path d="M87.9 763V778.7M83.9 763h8M83.9 778.7h8"/>
<path d="M94.33 737h8M94.33 757.3h8M98.33 737V742.7M98.33 751.5V757.3"/>
<path d="M98.33 767.2V783.4M94.33 767.2h8M94.33 783.4h8"/>
<path d="M104.76 728.7h8M104.76 750.4h8M108.76 728.7V735.1M108.76 743.9V750.4"/>
<path d="M108.76 767.6V787M104.76 767.6h8M104.76 787h8"/>
<path d="M115.19 737.2h8M115.19 766.2h8M119.19 737.2V747.4M119.19 756.2V766.2"/>
<path d="M119.19 772.8V796.9M115.19 772.8h8M115.19 796.9h8"/>
<path d="M125.62 741.5h8M125.62 777.1h8M129.62 741.5V754.9M129.62 763.7V777.1"/>
<path d="M129.62 792V819.6M125.62 792h8M125.62 819.6h8"/>
<path d="M136.05 737.6h8M136.05 773.6h8M140.05 737.6V751.4M140.05 760.2V773.6"/>
<path d="M140.05 786.4V809.7M136.05 786.4h8M136.05 809.7h8"/>
<path d="M146.48 736h8M146.48 768.2h8M150.48 736V747.4M150.48 756.2V768.2"/>
<path d="M150.48 786V808.4M146.48 786h8M146.48 808.4h8"/>
<path d="M156.91 728.1h8M156.91 751h8M160.91 728.1V735.6M160.91 744.4V751"/>
<path d="M160.91 768.2V793.9M156.91 768.2h8M156.91 793.9h8"/>
<path d="M167.34 723.1h8M167.34 737.6h8M171.34 723.1V726.2M171.34 735.0V737.6"/>
<path d="M171.34 768.2V793.9M167.34 768.2h8M167.34 793.9h8"/>
<path d="M177.77 715.4h8M177.77 730h8M181.77 715.4V718.3M181.77 727.1V730"/>
<path d="M181.77 774.2V797.3M177.77 774.2h8M177.77 797.3h8"/>
<path d="M188.2 720.8h8M188.2 731.6h8M192.2 720.8V721.9M192.2 730.7V731.6"/>
<path d="M192.2 764.5V790M188.2 764.5h8M188.2 790h8"/>
<path d="M198.63 719.8h8M198.63 742.1h8M202.63 719.8V726.6M202.63 735.4V742.1"/>
<path d="M202.63 770.4V791.4M198.63 770.4h8M198.63 791.4h8"/>
<path d="M209.06 718.2h8M209.06 735.6h8M213.06 718.2V723.3M213.06 732.1V735.6"/>
<path d="M213.06 780.7V802.2M209.06 780.7h8M209.06 802.2h8"/>
<path d="M219.49 763.3h8M219.49 787h8M223.49 763.3V771.1M223.49 779.9V787"/>
<path d="M223.49 792.3V820.2M219.49 792.3h8M219.49 820.2h8"/>
<path d="M229.92 758.9h8M229.92 776.7h8M233.92 758.9V763.8M233.92 772.6V776.7"/>
<path d="M233.92 784V806.8M229.92 784h8M229.92 806.8h8"/>
<path d="M240.35 750.8h8M240.35 775.1h8M244.35 750.8V758.9M244.35 767.7V775.1"/>
<path d="M244.35 792V809.7M240.35 792h8M240.35 809.7h8"/>
<path d="M250.78 748.4h8M250.78 771.6h8M254.78 748.4V755.9M254.78 764.7V771.6"/>
<path d="M254.78 790V812.3M250.78 790h8M250.78 812.3h8"/>
<path d="M261.21 748.4h8M261.21 769.2h8M265.21 748.4V754.9M265.21 763.7V769.2"/>
<path d="M265.21 774.2V801.8M261.21 774.2h8M261.21 801.8h8"/>
<path d="M271.64 741.9h8M271.64 759.3h8M275.64 741.9V746.4M275.64 755.2V759.3"/>
<path d="M275.64 782V812.3M271.64 782h8M271.64 812.3h8"/>
<path d="M282.07 741.5h8M282.07 762.3h8M286.07 741.5V747.6M286.07 756.4V762.3"/>
<path d="M286.07 774.2V797.9M282.07 774.2h8M282.07 797.9h8"/>
<path d="M292.5 725.7h8M292.5 743.9h8M296.5 725.7V730.8M296.5 739.6V743.9"/>
<path d="M296.5 765.8V789M292.5 765.8h8M292.5 789h8"/>
<path d="M302.93 727.7h8M302.93 739.5h8M306.93 727.7V729.8M306.93 738.6V739.5"/>
<path d="M306.93 765.8V792.3M302.93 765.8h8M302.93 792.3h8"/>
<path d="M313.36 743.5h8M313.36 751h8"/>
<path d="M317.36 767.2V795.3M313.36 767.2h8M313.36 795.3h8"/>
<path d="M323.79 754.4h8M323.79 768.2h8M327.79 754.4V756.9M327.79 765.7V768.2"/>
<path d="M327.79 769.6V802.8M323.79 769.6h8M323.79 802.8h8"/>
</g>
<polyline fill="none" stroke="#333" stroke-width="1" points="87.9,752.4 98.33,747.1 108.76,739.5 119.19,751.8 129.62,759.3 140.05,755.8 150.48,751.8 160.91,740 171.34,730.6 181.77,722.7 192.2,726.3 202.63,731 213.06,727.7 223.49,775.5 233.92,768.2 244.35,763.3 254.78,760.3 265.21,759.3 275.64,750.8 286.07,752 296.5,735.2 306.93,734.2 317.36,747.1 327.79,761.3"/>
<polyline fill="none" stroke="#222" stroke-width="1.1" points="87.9,770.8 98.33,775.1 108.76,777.1 119.19,785 129.62,805.8 140.05,797.9 150.48,796.9 160.91,781.1 171.34,781.1 181.77,786 192.2,777.1 202.63,781.1 213.06,791.4 223.49,806.8 233.92,794.9 244.35,800.8 254.78,800.8 265.21,787.4 275.64,796.9 286.07,786 296.5,777.1 306.93,779.1 317.36,780.7 327.79,787"/>
<circle cx="87.9" cy="752.4" r="3.95" fill="none" stroke="#222" stroke-width="1.15"/>
<circle cx="98.33" cy="747.1" r="3.95" fill="none" stroke="#222" stroke-width="1.15"/>
<circle cx="108.76" cy="739.5" r="3.95" fill="none" stroke="#222" stroke-width="1.15"/>
<circle cx="119.19" cy="751.8" r="3.95" fill="none" stroke="#222" stroke-width="1.15"/>
<circle cx="129.62" cy="759.3" r="3.95" fill="none" stroke="#222" stroke-width="1.15"/>
<circle cx="140.05" cy="755.8" r="3.95" fill="none" stroke="#222" stroke-width="1.15"/>
<circle cx="150.48" cy="751.8" r="3.95" fill="none" stroke="#222" stroke-width="1.15"/>
<circle cx="160.91" cy="740" r="3.95" fill="none" stroke="#222" stroke-width="1.15"/>
<circle cx="171.34" cy="730.6" r="3.95" fill="none" stroke="#222" stroke-width="1.15"/>
<circle cx="181.77" cy="722.7" r="3.95" fill="none" stroke="#222" stroke-width="1.15"/>
<circle cx="192.2" cy="726.3" r="3.95" fill="none" stroke="#222" stroke-width="1.15"/>
<circle cx="202.63" cy="731" r="3.95" fill="none" stroke="#222" stroke-width="1.15"/>
<circle cx="213.06" cy="727.7" r="3.95" fill="none" stroke="#222" stroke-width="1.15"/>
<circle cx="223.49" cy="775.5" r="3.95" fill="none" stroke="#222" stroke-width="1.15"/>
<circle cx="233.92" cy="768.2" r="3.95" fill="none" stroke="#222" stroke-width="1.15"/>
<circle cx="244.35" cy="763.3" r="3.95" fill="none" stroke="#222" stroke-width="1.15"/>
<circle cx="254.78" cy="760.3" r="3.95" fill="none" stroke="#222" stroke-width="1.15"/>
<circle cx="265.21" cy="759.3" r="3.95" fill="none" stroke="#222" stroke-width="1.15"/>
<circle cx="275.64" cy="750.8" r="3.95" fill="none" stroke="#222" stroke-width="1.15"/>
<circle cx="286.07" cy="752" r="3.95" fill="none" stroke="#222" stroke-width="1.15"/>
<circle cx="296.5" cy="735.2" r="3.95" fill="none" stroke="#222" stroke-width="1.15"/>
<circle cx="306.93" cy="734.2" r="3.95" fill="none" stroke="#222" stroke-width="1.15"/>
<circle cx="317.36" cy="747.1" r="3.95" fill="none" stroke="#222" stroke-width="1.15"/>
<circle cx="327.79" cy="761.3" r="3.95" fill="none" stroke="#222" stroke-width="1.15"/>
<circle cx="87.9" cy="771.2" r="4.4" fill="#000"/>
<circle cx="98.33" cy="775.5" r="4.4" fill="#000"/>
<circle cx="108.76" cy="777.5" r="4.4" fill="#000"/>
<circle cx="119.19" cy="785.4" r="4.4" fill="#000"/>
<circle cx="129.62" cy="806.2" r="4.4" fill="#000"/>
<circle cx="140.05" cy="798.3" r="4.4" fill="#000"/>
<circle cx="150.48" cy="797.3" r="4.4" fill="#000"/>
<circle cx="160.91" cy="781.5" r="4.4" fill="#000"/>
<circle cx="171.34" cy="781.5" r="4.4" fill="#000"/>
<circle cx="181.77" cy="786.4" r="4.4" fill="#000"/>
<circle cx="192.2" cy="777.5" r="4.4" fill="#000"/>
<circle cx="202.63" cy="781.5" r="4.4" fill="#000"/>
<circle cx="213.06" cy="791.8" r="4.4" fill="#000"/>
<circle cx="223.49" cy="807.2" r="4.4" fill="#000"/>
<circle cx="233.92" cy="795.3" r="4.4" fill="#000"/>
<circle cx="244.35" cy="801.2" r="4.4" fill="#000"/>
<circle cx="254.78" cy="801.2" r="4.4" fill="#000"/>
<circle cx="265.21" cy="787.8" r="4.4" fill="#000"/>
<circle cx="275.64" cy="797.3" r="4.4" fill="#000"/>
<circle cx="286.07" cy="786.4" r="4.4" fill="#000"/>
<circle cx="296.5" cy="777.5" r="4.4" fill="#000"/>
<circle cx="306.93" cy="779.5" r="4.4" fill="#000"/>
<circle cx="317.36" cy="781.1" r="4.4" fill="#000"/>
<circle cx="327.79" cy="787.4" r="4.4" fill="#000"/>
<path d="M346.8 750.3H352.9V807.5H346.8" stroke="#222" stroke-width="1.15" fill="none" />
<text x="366.1" y="791.05" font-size="20.5" font-weight="700" text-anchor="middle" style="font-family:'DejaVu Sans',sans-serif">*</text>
<line x1="238.9" y1="667.6" x2="268.8" y2="667.6" stroke="#000" stroke-width="1.5" />
<circle cx="253.3" cy="667.6" r="8" fill="#000"/>
<line x1="238.9" y1="693.9" x2="268.8" y2="693.9" stroke="#000" stroke-width="1.5" />
<circle cx="253.3" cy="693.9" r="7.2" fill="none" stroke="#000" stroke-width="1.5"/>
<text x="273.4" y="672.7" font-size="13.5" textLength="44.5" lengthAdjust="spacingAndGlyphs">APOE3</text>
<text x="273.4" y="698.3" font-size="13.5" textLength="44.5" lengthAdjust="spacingAndGlyphs">APOE4</text>
<text x="418.3" y="688.9" font-size="25" font-weight="700">F</text>
<text x="471.4" y="686.3" font-size="16" fill="#111" textLength="160" lengthAdjust="spacingAndGlyphs">ATP level in the liver</text>
<line x1="465.1" y1="873.0" x2="475.5" y2="873.0" stroke="#000" stroke-width="2" />
<text x="461" y="877.9" font-size="13.8" font-weight="700" text-anchor="end">0</text>
<line x1="465.1" y1="842.92" x2="475.5" y2="842.92" stroke="#000" stroke-width="2" />
<text x="461" y="847.82" font-size="13.8" font-weight="700" text-anchor="end">2</text>
<line x1="465.1" y1="812.84" x2="475.5" y2="812.84" stroke="#000" stroke-width="2" />
<text x="461" y="817.74" font-size="13.8" font-weight="700" text-anchor="end">4</text>
<line x1="465.1" y1="782.76" x2="475.5" y2="782.76" stroke="#000" stroke-width="2" />
<text x="461" y="787.66" font-size="13.8" font-weight="700" text-anchor="end">6</text>
<line x1="465.1" y1="752.68" x2="475.5" y2="752.68" stroke="#000" stroke-width="2" />
<text x="461" y="757.58" font-size="13.8" font-weight="700" text-anchor="end">8</text>
<line x1="465.1" y1="722.6" x2="475.5" y2="722.6" stroke="#000" stroke-width="2" />
<text x="461" y="727.5" font-size="13.8" font-weight="700" text-anchor="end">10</text>
<line x1="474.5" y1="721.6" x2="474.5" y2="874" stroke="#000" stroke-width="2.2" />
<line x1="473.5" y1="872.8" x2="625.5" y2="872.8" stroke="#000" stroke-width="2" />
<line x1="509.5" y1="872.8" x2="509.5" y2="882.8" stroke="#000" stroke-width="2" />
<line x1="589.1" y1="872.8" x2="589.1" y2="882.8" stroke="#000" stroke-width="2" />
<text x="508.8" y="898.9" font-size="13.8" font-weight="700" text-anchor="middle">AL</text>
<text x="588.3" y="898.9" font-size="13.8" font-weight="700" text-anchor="middle">DR</text>
<text x="437.2" y="796.9" font-size="13.4" font-weight="700" text-anchor="middle" textLength="150.8" lengthAdjust="spacing" transform="rotate(-90 437.2 796.9)">ATP [nmol/mg protein]</text>
<path d="M497.8 741.1V733.4H578.5V741.1" stroke="#000" stroke-width="1.5" fill="none" />
<text x="537.3" y="728.55" font-size="20.5" font-weight="700" text-anchor="middle" style="font-family:'DejaVu Sans',sans-serif">*</text>
<path d="M528.3 773.4V765.5H608.3V773.4" stroke="#000" stroke-width="1.5" fill="none" />
<text x="567.6" y="760.85" font-size="20.5" font-weight="700" text-anchor="middle" style="font-family:'DejaVu Sans',sans-serif">*</text>
<circle cx="494.4" cy="755.8" r="4.2" fill="#000"/>
<circle cx="489.2" cy="809.4" r="4.2" fill="#000"/>
<circle cx="501" cy="809.4" r="4.2" fill="#000"/>
<circle cx="494.4" cy="832" r="4.2" fill="#000"/>
<circle cx="489.2" cy="854.6" r="4.2" fill="#000"/>
<circle cx="501" cy="852.8" r="4.2" fill="#000"/>
<line x1="485.4" y1="819.5" x2="504.4" y2="819.5" stroke="#000" stroke-width="2.2" />
<line x1="494.8" y1="803.7" x2="494.8" y2="834.2" stroke="#000" stroke-width="1.6" />
<line x1="490.2" y1="803.7" x2="499.40000000000003" y2="803.7" stroke="#000" stroke-width="1.6" />
<line x1="490.2" y1="834.2" x2="499.40000000000003" y2="834.2" stroke="#000" stroke-width="1.6" />
<circle cx="524.2" cy="780.9" r="3.8" fill="none" stroke="#000" stroke-width="1.4"/>
<circle cx="517.9" cy="827.5" r="3.8" fill="none" stroke="#000" stroke-width="1.4"/>
<circle cx="530.6" cy="827.5" r="3.8" fill="none" stroke="#000" stroke-width="1.4"/>
<circle cx="531" cy="820.2" r="3.8" fill="none" stroke="#000" stroke-width="1.4"/>
<circle cx="524.7" cy="853.4" r="3.8" fill="none" stroke="#000" stroke-width="1.4"/>
<line x1="514.7" y1="821.8" x2="534.4" y2="821.8" stroke="#000" stroke-width="2.2" />
<line x1="524.7" y1="810" x2="524.7" y2="833.8" stroke="#000" stroke-width="1.6" />
<line x1="520.1" y1="810" x2="529.3000000000001" y2="810" stroke="#000" stroke-width="1.6" />
<line x1="520.1" y1="833.8" x2="529.3000000000001" y2="833.8" stroke="#000" stroke-width="1.6" />
<circle cx="567.6" cy="851.2" r="4.2" fill="#000"/>
<circle cx="574.4" cy="855.7" r="4.2" fill="#000"/>
<circle cx="580.7" cy="858" r="4.2" fill="#000"/>
<circle cx="567.6" cy="865.9" r="4.2" fill="#000"/>
<circle cx="574.4" cy="864.3" r="4.2" fill="#000"/>
<circle cx="580.7" cy="865.4" r="4.2" fill="#000"/>
<line x1="564.5" y1="860.2" x2="584.1" y2="860.2" stroke="#000" stroke-width="2.2" />
<circle cx="610.6" cy="839.9" r="3.8" fill="none" stroke="#000" stroke-width="1.4"/>
<circle cx="598.4" cy="846.7" r="3.8" fill="none" stroke="#000" stroke-width="1.4"/>
<circle cx="610.6" cy="848.5" r="3.8" fill="none" stroke="#000" stroke-width="1.4"/>
<circle cx="604.5" cy="856.8" r="3.8" fill="none" stroke="#000" stroke-width="1.4"/>
<circle cx="598.4" cy="870.4" r="3.8" fill="none" stroke="#000" stroke-width="1.4"/>
<circle cx="610.6" cy="867" r="3.8" fill="none" stroke="#000" stroke-width="1.4"/>
<line x1="594.3" y1="854.6" x2="613.5" y2="854.6" stroke="#000" stroke-width="2.2" />
<line x1="604.2" y1="851.2" x2="604.2" y2="859.5" stroke="#000" stroke-width="1.6" />
<line x1="599.8000000000001" y1="851.2" x2="608.6" y2="851.2" stroke="#000" stroke-width="1.6" />
<line x1="599.8000000000001" y1="859.5" x2="608.6" y2="859.5" stroke="#000" stroke-width="1.6" />
<circle cx="644.9" cy="764.6" r="8.4" fill="#000"/>
<circle cx="644.9" cy="790.3" r="7.6" fill="#fff" stroke="#000" stroke-width="1.7"/>
<text x="661" y="769.5" font-size="14" textLength="45.4" lengthAdjust="spacingAndGlyphs">APOE3</text>
<text x="661" y="794.7" font-size="14" textLength="45.4" lengthAdjust="spacingAndGlyphs">APOE4</text>
</svg>
</body></html>
